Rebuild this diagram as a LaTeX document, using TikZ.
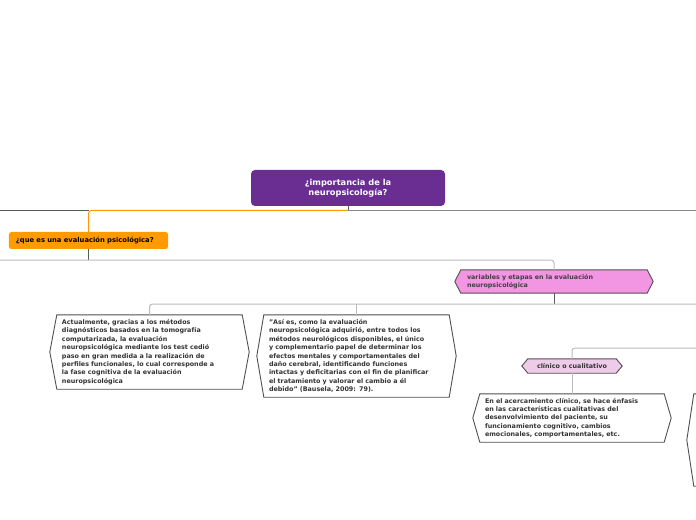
\documentclass[tikz,border=0pt]{standalone}
\usepackage{fontspec}
\setmainfont{DejaVu Sans}
\usetikzlibrary{backgrounds}
\definecolor{purpleC}{HTML}{6A2D91}
\definecolor{orangeC}{HTML}{FF9A00}
\definecolor{pinkC}{HTML}{F295E2}
\definecolor{lpinkC}{HTML}{EECBE9}
\definecolor{borderC}{HTML}{505050}
\definecolor{textC}{HTML}{333333}
\definecolor{darkC}{HTML}{5A5A5A}
\definecolor{midC}{HTML}{8A8A8A}
\definecolor{lightC}{HTML}{BBBBBB}
\begin{document}
\begin{tikzpicture}[x=1bp,y=-1bp,
  smalltext/.style={font=\fontsize{6.4}{8.4}\selectfont\bfseries},
  topnode/.style={rectangle, rounded corners=4bp, fill=purpleC, text=white,
    font=\fontsize{8.3}{10}\selectfont\bfseries, align=center, inner sep=0pt,
    minimum width=194bp, minimum height=36bp},
  orangenode/.style={rectangle, rounded corners=2.5bp, fill=orangeC, text=black,
    font=\fontsize{6.8}{8.4}\selectfont\bfseries, inner ysep=0pt, inner xsep=7bp,
    text width=145bp, align=left, minimum height=17bp},
  hexnode/.style={rectangle, inner ysep=0pt, inner xsep=5bp, text=textC, smalltext,
    align=left},
  darkline/.style={draw=darkC, line width=1bp},
  midline/.style={draw=midC, line width=1bp},
  orangeline/.style={draw=orangeC, line width=1bp, rounded corners=3bp},
  lightline/.style={draw=lightC, line width=1bp, rounded corners=3bp}
]
\useasboundingbox (0,0) rectangle (696,520);

% nodes
\node[topnode] (top) at (348,188) {¿importancia de la\\neuropsicología?};
\node[orangenode] (q) at (88.5,240.5) {¿que es una evaluación psicológica?};
\node[hexnode, text width=174bp, inner xsep=6bp, minimum height=23bp, text=black!75] (pink) at (554,281.5)
  {variables y etapas en la evaluación\\neuropsicológica};
\node[hexnode, text width=175bp, minimum height=74bp] (box1) at (149.5,352)
  {Actualmente, gracias a los métodos\\
   diagnósticos basados en la tomografía\\
   computarizada, la evaluación\\
   neuropsicológica mediante los test cedió\\
   paso en gran medida a la realización de\\
   perfiles funcionales, lo cual corresponde a\\
   la fase cognitiva de la evaluación\\
   neuropsicológica};
\node[hexnode, text width=175bp, minimum height=82bp] (box2) at (356.5,356)
  {"Así es, como la evaluación\\
   neuropsicológica adquirió, entre todos los\\
   métodos neurológicos disponibles, el único\\
   y complementario papel de determinar los\\
   efectos mentales y comportamentales del\\
   daño cerebral, identificando funciones\\
   intactas y deficitarias con el fin de planificar\\
   el tratamiento y valorar el cambio a él\\
   debido" (Bausela, 2009: 79).};
\node[hexnode, align=center, inner xsep=0pt, minimum width=88bp, minimum height=14bp] (cl) at (572,366)
  {clínico o cualitativo};
\node[hexnode, text width=174bp, minimum height=48bp] (box3) at (572,418)
  {En el acercamiento clínico, se hace énfasis\\
   en las características cualitativas del\\
   desenvolvimiento del paciente, su\\
   funcionamiento cognitivo, cambios\\
   emocionales, comportamentales, etc.};
\node[hexnode, minimum width=186bp, minimum height=92bp] (box4) at (787,440) {};

% hexagon outlines behind the texts
\begin{scope}[on background layer]
\foreach \n/\d/\c in {pink/6/pinkC, box1/7/white, box2/7/white, cl/6/lpinkC, box3/7/white, box4/7/white}{
  \filldraw[fill=\c, draw=borderC, line width=0.9bp, line join=miter]
    (\n.north west) -- (\n.north east) -- ([xshift=\d bp]\n.east) -- (\n.south east)
    -- (\n.south west) -- ([xshift=-\d bp]\n.west) -- cycle;
}
\end{scope}

% free ends of connectors
\coordinate (Lw) at (0,210.5);
\coordinate (Re) at (696,210.5);
\coordinate (L2) at (0,260);
\coordinate (R3) at (696,304);
\coordinate (R4) at (696,348);

% connectors
\draw[darkline] (Lw) -- (q.north |- Lw);
\draw[orangeline] (top.south |- Lw) -| (q.north);
\draw[midline] (top.south |- Lw) -- (Re);
\draw[darkline] (top.south) -- (top.south |- Lw);

\draw[darkline] (q.south) -- (q.south |- L2);
\draw[lightline] (L2) -| (pink.north);

\draw[darkline] (pink.south) -- (pink.south |- R3);
\draw[lightline] (R3) -| (box1.north);
\draw[lightline] (box2.north |- R3) -- (box2.north);

\draw[lightline] (R4) -| (cl.north);
\draw[lightline] (cl.south) -- (box3.north);
\end{tikzpicture}
\end{document}
